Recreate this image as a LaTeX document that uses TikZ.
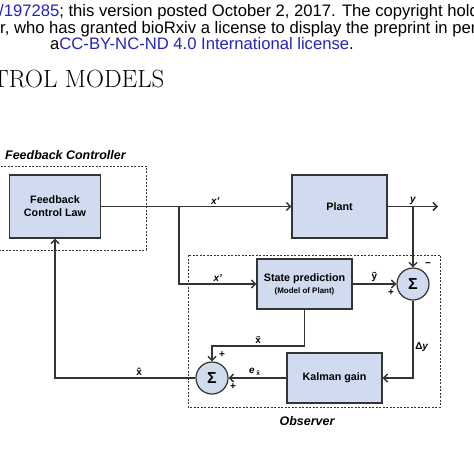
\documentclass[tikz,border=0pt]{standalone}
\usepackage{fontspec}
\setsansfont{Liberation Sans}
\usepackage{xcolor}
\usetikzlibrary{arrows.meta}

\definecolor{boxfill}{RGB}{208,219,240}
\definecolor{linegray}{RGB}{52,52,52}
\definecolor{linkblue}{RGB}{36,36,190}

\tikzset{
    block/.style={draw=linegray, line width=1.2bp, fill=boxfill, align=center,
        inner sep=0pt, font=\sffamily\bfseries\fontsize{10.8}{13}\selectfont},
    sumnode/.style={circle, draw=linegray, line width=1.2bp, fill=boxfill,
        minimum size=32bp, inner sep=0pt, font=\sffamily\bfseries\fontsize{16}{16}\selectfont},
    signal/.style={draw=linegray, line width=1.5bp, -{Straight Barb[length=4bp,width=8bp]}},
    framebox/.style={draw=linegray, line width=0.9bp, dash pattern=on 2bp off 1.5bp},
    siglabel/.style={font=\sffamily\bfseries\itshape\fontsize{10}{10}\selectfont, inner sep=1.5pt},
    sign/.style={font=\sffamily\bfseries\fontsize{10}{10}\selectfont, inner sep=0pt},
    title/.style={font=\sffamily\bfseries\itshape\fontsize{12.5}{13}\selectfont, inner sep=0pt},
    header/.style={font=\sffamily\fontsize{16.7}{17}\selectfont, anchor=base west, inner sep=0pt}
}

\begin{document}
\begin{tikzpicture}[x=1bp, y=-1bp]
    \clip (0,0) rectangle (474,474);
    \fill[white] (0,0) rectangle (474,474);

    % page header
    \node[header] (line1) at (-1,17) {\textcolor{linkblue}{/197285}; this version posted October 2, 2017. The copyright hold};
    \node[header] (line2) at (0,34) {r, who has granted bioRxiv a license to display the preprint in perp};
    \node[header] (line3) at (50,50) {a\textcolor{linkblue}{CC-BY-NC-ND 4.0 International license}.};
    \node[anchor=base west, inner sep=0pt, font=\fontsize{25}{25}\selectfont] (section) at (-8,88) {TROL MODELS};

    % dashed frames
    \draw[framebox] (-5,166) rectangle (146,250);
    \draw[framebox] (188,255) rectangle (440,407);
    \node[title, anchor=west] (fctitle) at (5,155) {Feedback Controller};
    \node[title] (obstitle) at (307,421) {Observer};

    % blocks
    \node[block, minimum width=91bp, minimum height=63bp] (law) at (55,206.5) {Feedback\\Control Law};
    \node[block, minimum width=95bp, minimum height=63bp] (plant) at (339.5,206.5) {Plant};
    \node[block, minimum width=95bp, minimum height=50bp] (pred) at (304.5,284)
        {State prediction\\[-1pt]{\fontsize{8}{9}\selectfont(Model of Plant)}};
    \node[block, minimum width=95bp, minimum height=50bp] (kalman) at (334.5,378) {Kalman gain};
    \node[sumnode] (sumy) at (413,284) {Σ};
    \node[sumnode] (sumx) at (212,378) {Σ};

    % junctions and ends
    \coordinate (split) at (179,206.5);
    \coordinate (ytap) at (413,206.5);
    \coordinate (yout) at (438,206.5);
    \coordinate (xtap) at (304.5,346);

    % connectors
    \draw[signal] (law.east) -- (plant.west) node[siglabel, pos=0.6, above] {x'};
    \draw[signal] (plant.east) -- (yout) node[siglabel, pos=0.5, above] {y};
    \draw[signal] (ytap) -- (sumy.north);
    \draw[signal] (split) |- (pred.west) node[siglabel, pos=0.75, above] {x'};
    \draw[signal] (pred.east) -- (sumy.west) node[siglabel, midway, above] {\upshape ỹ};
    \draw[signal] (sumy.south) |- (kalman.east) node[siglabel, pos=0.3, right] {\upshape Δ\itshape y};
    \draw[signal] (kalman.west) -- (sumx.east)
        node[siglabel, pos=0.55, above] {e\,{\fontsize{6.5}{6.5}\selectfont\raisebox{-2pt}{\upshape\~{x}}}};
    \draw[signal] (pred.south) |- (xtap) -| (sumx.north) node[siglabel, pos=0.25, above] {\upshape\~{x}};
    \draw[signal] (sumx.west) -| (law.south) node[siglabel, pos=0.2, above] {\upshape\^{x}};

    % signs
    \node[sign] (sumyminus) at (428,265) {−};
    \node[sign] (sumyplus) at (391,293) {+};
    \node[sign] (sumxplus1) at (222,355) {+};
    \node[sign] (sumxplus2) at (233,387) {+};
\end{tikzpicture}
\end{document}
